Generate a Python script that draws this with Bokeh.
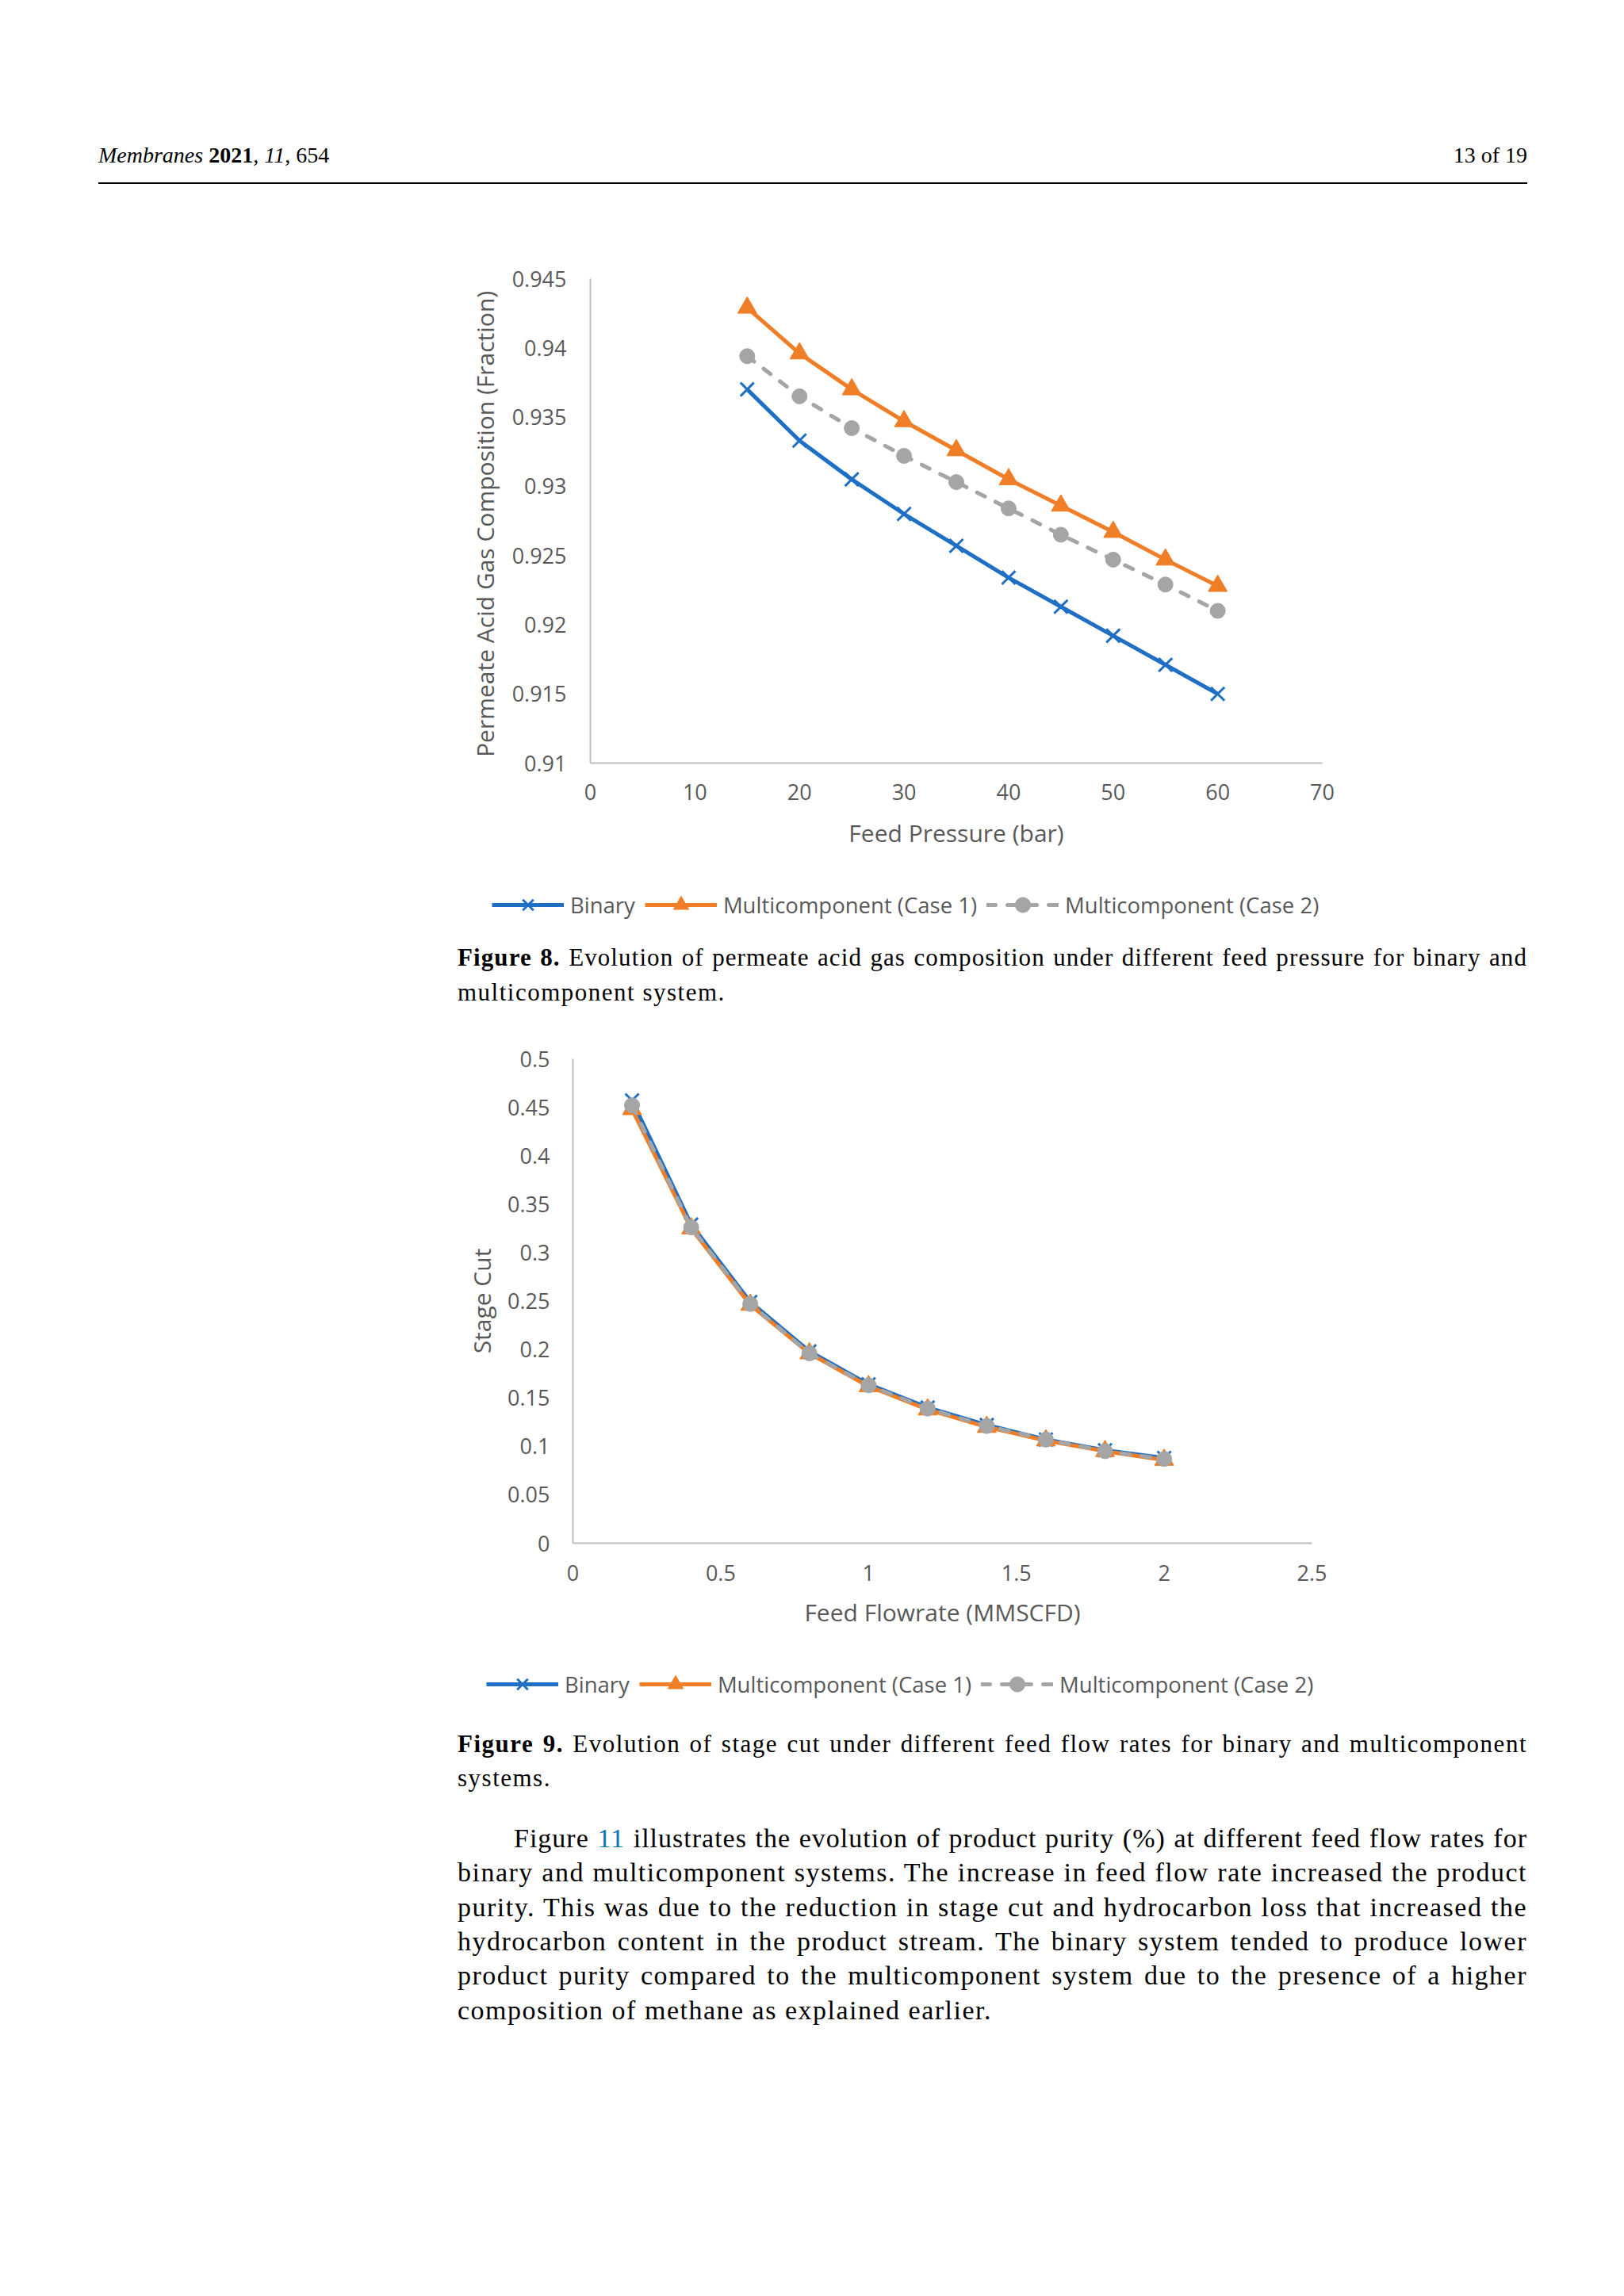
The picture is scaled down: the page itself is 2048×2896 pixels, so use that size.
from bokeh.embed import file_html
from bokeh.resources import INLINE
from bokeh.layouts import column
from bokeh.models import Div, Range1d, FixedTicker, Legend, LegendItem
from bokeh.plotting import figure

# Figure 8: permeate acid gas composition vs feed pressure
pressure = [15, 20, 25, 30, 35, 40, 45, 50, 55, 60]
binary_comp = [0.9370, 0.9333, 0.9305, 0.9280, 0.9257, 0.9234, 0.9213, 0.9192, 0.9171, 0.9150]
case1_comp = [0.9429, 0.9396, 0.9370, 0.9347, 0.9326, 0.9305, 0.9286, 0.9267, 0.9247, 0.9228]
case2_comp = [0.9394, 0.9365, 0.9342, 0.9322, 0.9303, 0.9284, 0.9265, 0.9247, 0.9229, 0.9210]
pressure_ticks = [0, 10, 20, 30, 40, 50, 60, 70]
pressure_labels = ["0", "10", "20", "30", "40", "50", "60", "70"]
comp_ticks = [0.91, 0.915, 0.92, 0.925, 0.93, 0.935, 0.94, 0.945]
comp_labels = ["0.91", "0.915", "0.92", "0.925", "0.93", "0.935", "0.94", "0.945"]

# Figure 9: stage cut vs feed flowrate
flowrate = [0.2, 0.4, 0.6, 0.8, 1.0, 1.2, 1.4, 1.6, 1.8, 2.0]
binary_cut = [0.457, 0.329, 0.249, 0.198, 0.164, 0.140, 0.122, 0.107, 0.096, 0.088]
case1_cut = [0.448, 0.325, 0.246, 0.196, 0.162, 0.138, 0.120, 0.106, 0.095, 0.086]
case2_cut = [0.452, 0.326, 0.247, 0.196, 0.163, 0.139, 0.121, 0.107, 0.095, 0.087]
flow_ticks = [0, 0.5, 1, 1.5, 2, 2.5]
flow_labels = ["0", "0.5", "1", "1.5", "2", "2.5"]
cut_ticks = [0, 0.05, 0.1, 0.15, 0.2, 0.25, 0.3, 0.35, 0.4, 0.45, 0.5]
cut_labels = ["0", "0.05", "0.1", "0.15", "0.2", "0.25", "0.3", "0.35", "0.4", "0.45", "0.5"]

series_names = ["Binary", "Multicomponent (Case 1)", "Multicomponent (Case 2)"]

BLUE = "#1F6FC5"
ORANGE = "#F07E26"
GRAY = "#A5A5A5"
TEXT = "#595959"
AXIS = "#BFBFBF"
FONT = "Open Sans"
PAGE_W = 2040


def no_align(p):
    if "frame_align" in p.properties():
        p.frame_align = False


def add_series(p, x, ys, visible=True):
    # one line + marker pair per series, in the order Excel draws them
    out = []
    l0 = p.line(x, ys[0], line_color=BLUE, line_width=5, line_join="round", visible=visible)
    m0 = p.scatter(x, ys[0], marker="x", size=24, line_color=BLUE, line_width=3, visible=visible)
    out.append([l0, m0])
    l1 = p.line(x, ys[1], line_color=ORANGE, line_width=5, line_join="round", visible=visible)
    m1 = p.scatter(x, ys[1], marker="triangle", size=24, fill_color=ORANGE, line_color=ORANGE,
                   visible=visible)
    out.append([l1, m1])
    l2 = p.line(x, ys[2], line_color=GRAY, line_width=5, line_dash="11 15", line_cap="round",
                visible=visible)
    m2 = p.scatter(x, ys[2], marker="circle", size=19, fill_color=GRAY, line_color=GRAY,
                   visible=visible)
    out.append([l2, m2])
    return out


def make_chart(x, ys, xr, yr, xticks, xlabels, yticks, ylabels, xtitle, ytitle,
               left, fwidth, top, bottom, xstand, ystand, xtstand, ytstand):
    p = figure(frame_width=fwidth, frame_height=611,
               min_border_left=left, min_border_right=PAGE_W - left - fwidth,
               min_border_top=top, min_border_bottom=bottom,
               x_range=Range1d(*xr), y_range=Range1d(*yr),
               output_backend="svg", toolbar_location=None, tools="")
    no_align(p)
    p.margin = 0
    p.outline_line_color = None
    p.grid.grid_line_color = None

    p.xaxis.ticker = FixedTicker(ticks=xticks)
    p.xaxis.major_label_overrides = dict(zip(xticks, xlabels))
    p.yaxis.ticker = FixedTicker(ticks=yticks)
    p.yaxis.major_label_overrides = dict(zip(yticks, ylabels))
    for ax in (p.xaxis, p.yaxis):
        ax.axis_line_color = AXIS
        ax.axis_line_width = 2
        ax.major_tick_line_color = None
        ax.minor_tick_line_color = None
        ax.major_tick_out = 0
        ax.major_tick_in = 0
        ax.major_label_text_font = FONT
        ax.major_label_text_font_size = "27px"
        ax.major_label_text_color = TEXT
        ax.axis_label_text_font = FONT
        ax.axis_label_text_font_size = "30px"
        ax.axis_label_text_font_style = "normal"
        ax.axis_label_text_color = TEXT
    p.xaxis.major_label_standoff = xstand
    p.yaxis.major_label_standoff = ystand
    p.xaxis.axis_label = xtitle
    p.yaxis.axis_label = ytitle
    p.xaxis.axis_label_standoff = xtstand
    p.yaxis.axis_label_standoff = ytstand

    add_series(p, x, ys)
    return p


def legend_strip(height, lx, ly, x, ys):
    # the legend sits below the chart, so it gets its own strip; its renderers stay hidden
    q = figure(width=PAGE_W, height=height, x_range=Range1d(0, PAGE_W), y_range=Range1d(0, height),
               x_axis_type=None, y_axis_type=None, min_border=0,
               output_backend="svg", toolbar_location=None, tools="")
    no_align(q)
    q.margin = 0
    q.outline_line_color = None
    q.grid.grid_line_color = None
    rs = add_series(q, x, ys, visible=False)
    items = [LegendItem(label=n, renderers=r) for n, r in zip(series_names, rs)]
    legend = Legend(items=items, orientation="horizontal", location=(lx, ly),
                    glyph_width=91, glyph_height=48, label_height=48, label_standoff=8,
                    spacing=12, padding=0, margin=0,
                    border_line_alpha=0, background_fill_alpha=0, inactive_fill_alpha=0,
                    label_text_font=FONT, label_text_font_size="27.5px",
                    label_text_color=TEXT)
    q.add_layout(legend, "center")
    return q


p1 = make_chart(pressure, [binary_comp, case1_comp, case2_comp], (0, 70), (0.91, 0.945),
                pressure_ticks, pressure_labels, comp_ticks, comp_labels,
                "Feed Pressure (bar)", "Permeate Acid Gas  Composition (Fraction)",
                left=744, fwidth=923, top=71, bottom=143,
                xstand=26, ystand=30, xtstand=18, ytstand=11)
leg1 = legend_strip(70, 620, 10, pressure, [binary_comp, case1_comp, case2_comp])

p2 = make_chart(flowrate, [binary_cut, case1_cut, case2_cut], (0, 2.5), (0, 0.5),
                flow_ticks, flow_labels, cut_ticks, cut_labels,
                "Feed Flowrate (MMSCFD)", "Stage Cut",
                left=722, fwidth=932, top=45, bottom=149,
                xstand=27, ystand=29, xtstand=16, ytstand=9)
leg2 = legend_strip(70, 613, 17, flowrate, [binary_cut, case1_cut, case2_cut])

SERIF = "'Liberation Serif', serif"


def text_line(html, left, baseline, width, size, justify, spacing=0.0, color="#000"):
    top = baseline - 0.8375 * size
    align = "text-align:justify;text-align-last:justify;" if justify else ""
    return (f'<div style="position:absolute;left:{left}px;top:{top:.1f}px;width:{width}px;'
            f'font-size:{size}px;line-height:{size}px;letter-spacing:{spacing}px;'
            f'white-space:nowrap;{align}color:{color}">{html}</div>')


def block(height, parts):
    inner = "".join(parts)
    return Div(text=(f'<div style="position:relative;width:{PAGE_W}px;height:{height}px;'
                     f'font-family:{SERIF};">{inner}</div>'),
               width=PAGE_W, height=height, margin=0)


RIGHT = 1926

header = block(280, [
    text_line("<i>Membranes</i> <b>2021</b>, <i>11</i>, 654", 124, 205, 600, 28, False),
    f'<div style="position:absolute;right:{PAGE_W - RIGHT}px;top:{205 - 0.8375 * 28:.1f}px;'
    f'font-size:28px;line-height:28px">13 of 19</div>',
    f'<div style="position:absolute;left:124px;top:230px;width:{RIGHT - 124}px;height:2px;'
    f'background:#000"></div>',
])

L = 577
W = RIGHT - L
CAP = 31
BODY = 34

caption1 = block(115, [
    text_line("<b>Figure 8.</b> Evolution of permeate acid gas composition under different feed "
              "pressure for binary and", L, 43, W, CAP, True, 1.1),
    text_line("multicomponent system.", L, 87, W, CAP, False, 1.5),
])

para_lines = [
    'Figure <span style="color:#0875B7">11</span> illustrates the evolution of product purity (%) '
    'at different feed flow rates for',
    "binary and multicomponent systems. The increase in feed flow rate increased the product",
    "purity. This was due to the reduction in stage cut and hydrocarbon loss that increased the",
    "hydrocarbon content in the product stream. The binary system tended to produce lower",
    "product purity compared to the multicomponent system due to the presence of a higher",
    "composition of methane as explained earlier.",
]
para_baselines = [165, 208, 252, 295, 338, 382]
para_spacing = [1.0, 1.5, 1.5, 1.5, 1.5, 1.5]
parts = [
    text_line("<b>Figure 9.</b> Evolution of stage cut under different feed flow rates for binary "
              "and multicomponent", L, 45, W, CAP, True, 1.5),
    text_line("systems.", L, 88, W, CAP, False, 1.5),
]
for i, (txt, bl, sp) in enumerate(zip(para_lines, para_baselines, para_spacing)):
    if i == 0:
        parts.append(text_line(txt, 648, bl, RIGHT - 648, BODY, True, sp))
    else:
        parts.append(text_line(txt, L, bl, W, BODY, i < len(para_lines) - 1, sp))
caption2 = block(700, parts)

page = column(header, p1, leg1, caption1, p2, leg2, caption2, spacing=0, margin=0)

open("out.html", "w").write(file_html(page, INLINE))
